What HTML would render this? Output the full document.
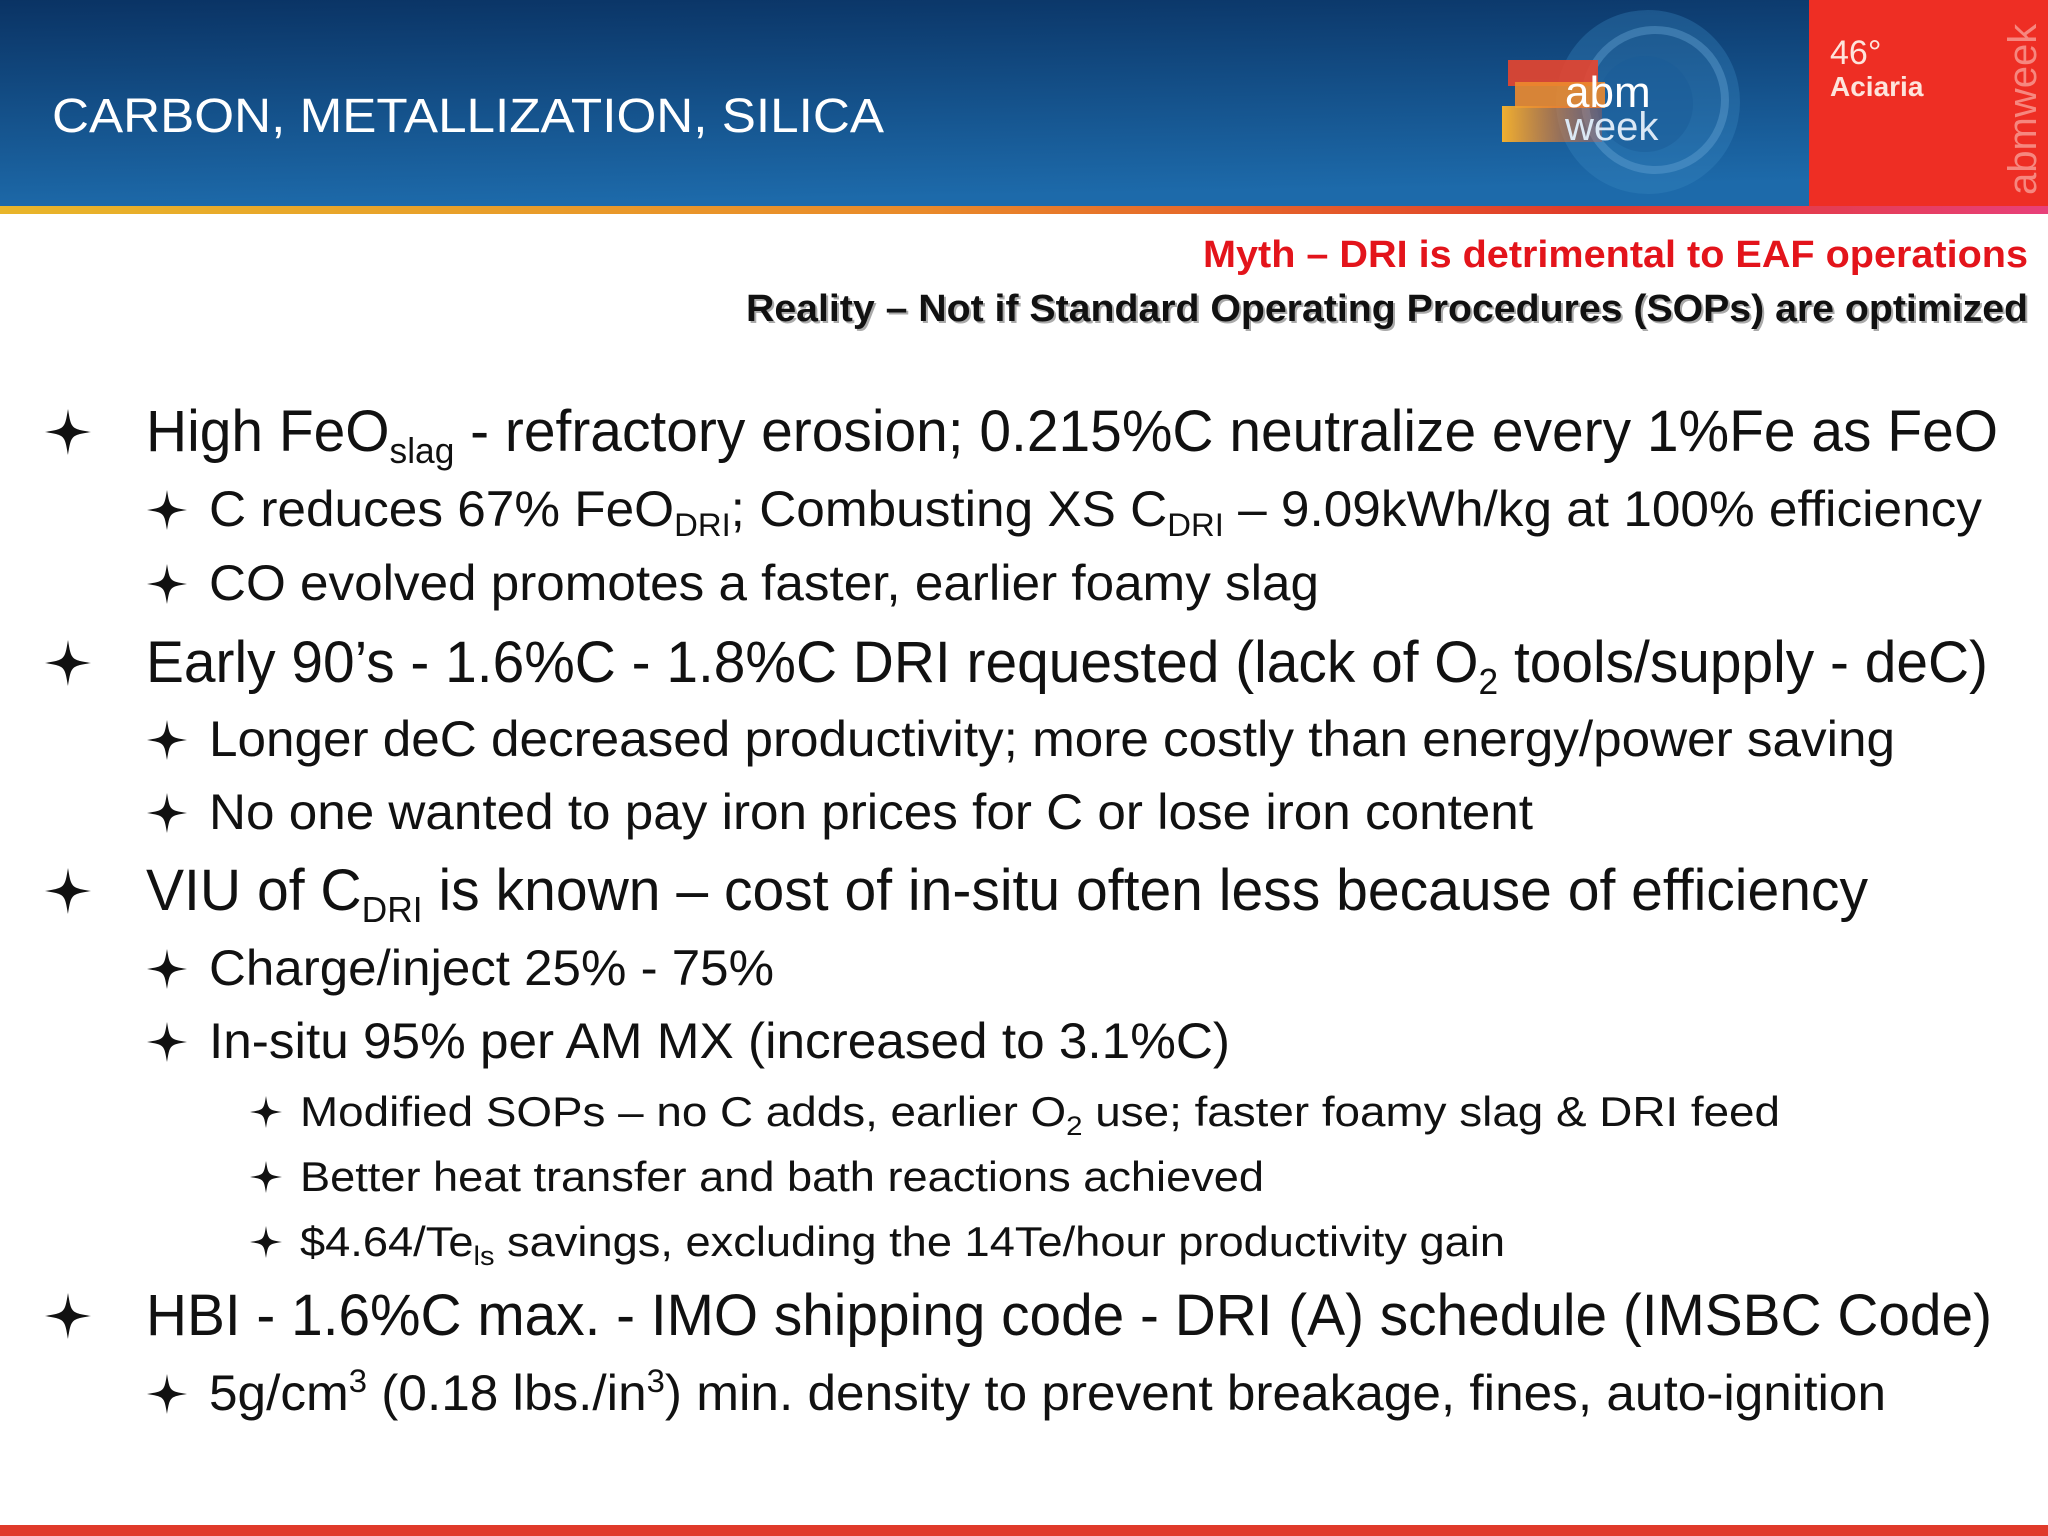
<!DOCTYPE html>
<html><head><meta charset="utf-8"><style>
html,body{margin:0;padding:0;background:#fff;}
svg{display:block;font-family:"Liberation Sans",Arial,sans-serif;}
</style></head><body>
<svg width="2048" height="1536" viewBox="0 0 2048 1536">
<defs>
<linearGradient id="hdr" x1="0" y1="0" x2="0.15" y2="1">
<stop offset="0" stop-color="#0a3364"/><stop offset="1" stop-color="#1d6aaa"/></linearGradient>
<linearGradient id="strip" x1="0" y1="0" x2="1" y2="0">
<stop offset="0" stop-color="#e8b52a"/><stop offset="0.45" stop-color="#e98a2a"/><stop offset="0.78" stop-color="#e03a2a"/><stop offset="1" stop-color="#e8407a"/></linearGradient>
<linearGradient id="bars" x1="0" y1="0" x2="1" y2="0">
<stop offset="0" stop-color="#f0b030"/><stop offset="1" stop-color="#e85a30" stop-opacity="0.3"/></linearGradient>
<path id="star" d="M0,-1 C0.14,-0.14 0.14,-0.14 1,0 C0.14,0.14 0.14,0.14 0,1 C-0.14,0.14 -0.14,0.14 -1,0 C-0.14,-0.14 -0.14,-0.14 0,-1Z"/>
</defs>
<g>
<rect x="0" y="0" width="1809" height="208" fill="url(#hdr)"/>
<rect x="1809" y="0" width="239" height="208" fill="#ee2e24"/>
<rect x="0" y="206" width="2048" height="8" fill="url(#strip)"/>
<text x="52" y="132" font-size="48" fill="#fff" textLength="832" lengthAdjust="spacingAndGlyphs">CARBON, METALLIZATION, SILICA</text>
<g>
<circle cx="1648" cy="102" r="92" fill="#3a86c0" opacity="0.35"/>
<circle cx="1655" cy="100" r="70" fill="none" stroke="#6aa8d8" stroke-width="8" opacity="0.4"/>
<circle cx="1645" cy="104" r="48" fill="#1a5c98" opacity="0.5"/>
<rect x="1508" y="60" width="90" height="26" fill="#e8452e" opacity="0.9"/>
<rect x="1515" y="82" width="90" height="26" fill="#ec8a2e" opacity="0.9"/>
<rect x="1502" y="106" width="100" height="36" fill="url(#bars)"/>
<text x="1565" y="107" font-size="44" fill="#fff">abm</text>
<text x="1565" y="140" font-size="40" fill="#dbe8f5">week</text>
</g>
<text x="1830" y="64" font-size="34" fill="#fde4dc">46°</text>
<text x="1830" y="96" font-size="28" font-weight="bold" fill="#fde4dc">Aciaria</text>
<text transform="translate(2036,195) rotate(-90)" font-size="40" fill="#f6877f">abmweek</text>
</g>
<text x="2028" y="267" text-anchor="end" font-size="38" font-weight="bold" fill="#e3141b" textLength="825" lengthAdjust="spacingAndGlyphs">Myth – DRI is detrimental to EAF operations</text>
<text x="2030" y="323" text-anchor="end" font-size="38" font-weight="bold" fill="#aaa" textLength="1282" lengthAdjust="spacingAndGlyphs">Reality – Not if Standard Operating Procedures (SOPs) are optimized</text>
<text x="2028" y="321" text-anchor="end" font-size="38" font-weight="bold" fill="#111" textLength="1282" lengthAdjust="spacingAndGlyphs">Reality – Not if Standard Operating Procedures (SOPs) are optimized</text>

<g fill="#111">
<use href="#star" transform="translate(68,432) scale(23)"/>
<use href="#star" transform="translate(167,510) scale(20)"/>
<use href="#star" transform="translate(167,584) scale(20)"/>
<use href="#star" transform="translate(68,663) scale(23)"/>
<use href="#star" transform="translate(167,740) scale(20)"/>
<use href="#star" transform="translate(167,813) scale(20)"/>
<use href="#star" transform="translate(68,891) scale(23)"/>
<use href="#star" transform="translate(167,969) scale(20)"/>
<use href="#star" transform="translate(167,1042) scale(20)"/>
<use href="#star" transform="translate(266,1112) scale(16)"/>
<use href="#star" transform="translate(266,1177) scale(16)"/>
<use href="#star" transform="translate(266,1242) scale(16)"/>
<use href="#star" transform="translate(68,1316) scale(23)"/>
<use href="#star" transform="translate(167,1394) scale(20)"/>

<text x="146" y="451" font-size="58" textLength="1852" lengthAdjust="spacingAndGlyphs">High FeO<tspan font-size="36" dy="12">slag</tspan><tspan dy="-12"> - refractory erosion; 0.215%C neutralize every 1%Fe as FeO</tspan></text>
<text x="209" y="526" font-size="50" textLength="1773" lengthAdjust="spacingAndGlyphs">C reduces 67% FeO<tspan font-size="32" dy="10">DRI</tspan><tspan dy="-10">; Combusting XS C</tspan><tspan font-size="32" dy="10">DRI</tspan><tspan dy="-10"> – 9.09kWh/kg at 100% efficiency</tspan></text>
<text x="209" y="600" font-size="50" textLength="1110" lengthAdjust="spacingAndGlyphs">CO evolved promotes a faster, earlier foamy slag</text>
<text x="146" y="682" font-size="58" textLength="1842" lengthAdjust="spacingAndGlyphs">Early 90’s - 1.6%C - 1.8%C DRI requested (lack of O<tspan font-size="36" dy="12">2</tspan><tspan dy="-12"> tools/supply - deC)</tspan></text>
<text x="209" y="756" font-size="50" textLength="1686" lengthAdjust="spacingAndGlyphs">Longer deC decreased productivity; more costly than energy/power saving</text>
<text x="209" y="829" font-size="50" textLength="1324" lengthAdjust="spacingAndGlyphs">No one wanted to pay iron prices for C or lose iron content</text>
<text x="146" y="910" font-size="58" textLength="1722" lengthAdjust="spacingAndGlyphs">VIU of C<tspan font-size="36" dy="12">DRI</tspan><tspan dy="-12"> is known – cost of in-situ often less because of efficiency</tspan></text>
<text x="209" y="985" font-size="50" textLength="565" lengthAdjust="spacingAndGlyphs">Charge/inject 25% - 75%</text>
<text x="209" y="1058" font-size="50" textLength="1021" lengthAdjust="spacingAndGlyphs">In-situ 95% per AM MX (increased to 3.1%C)</text>
<text x="300" y="1126" font-size="42" textLength="1480" lengthAdjust="spacingAndGlyphs">Modified SOPs – no C adds, earlier O<tspan font-size="27" dy="9">2</tspan><tspan dy="-9"> use; faster foamy slag &amp; DRI feed</tspan></text>
<text x="300" y="1191" font-size="42" textLength="964" lengthAdjust="spacingAndGlyphs">Better heat transfer and bath reactions achieved</text>
<text x="300" y="1256" font-size="42" textLength="1205" lengthAdjust="spacingAndGlyphs">$4.64/Te<tspan font-size="27" dy="9">ls</tspan><tspan dy="-9"> savings, excluding the 14Te/hour productivity gain</tspan></text>
<text x="146" y="1335" font-size="58" textLength="1846" lengthAdjust="spacingAndGlyphs">HBI - 1.6%C max. - IMO shipping code - DRI (A) schedule (IMSBC Code)</text>
<text x="209" y="1410" font-size="50" textLength="1677" lengthAdjust="spacingAndGlyphs">5g/cm<tspan font-size="32" dy="-18">3</tspan><tspan dy="18"> (0.18 lbs./in</tspan><tspan font-size="32" dy="-18">3</tspan><tspan dy="18">) min. density to prevent breakage, fines, auto-ignition</tspan></text>
</g>
<rect x="0" y="1525" width="2048" height="11" fill="#e03a2a"/>
</svg>
</body></html>
